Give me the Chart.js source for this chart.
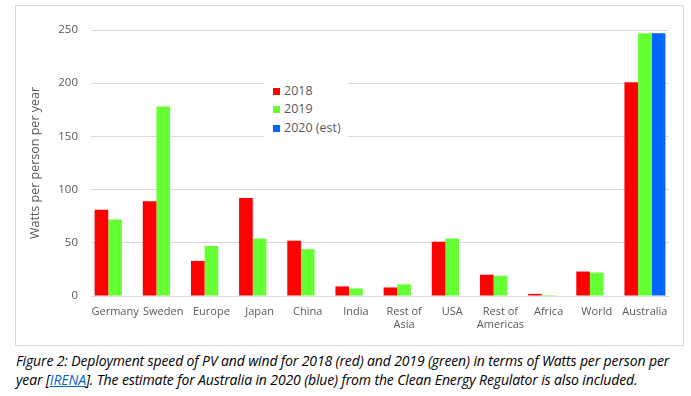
<!DOCTYPE html>
<html>
<head>
<meta charset="utf-8">
<script src="https://cdn.jsdelivr.net/npm/chart.js@4/dist/chart.umd.min.js"></script>
<style>
  body { margin: 0; background: #fff; width: 691px; height: 396px; position: relative; overflow: hidden; font-family: "Open Sans", sans-serif; }
  #box { position: absolute; left: 15px; top: 5px; width: 667px; height: 339px; border: 1px solid #d9d9d9; }
  #chartWrap { position: absolute; left: 0; top: 0; width: 667px; height: 339px; }
  #legend { position: absolute; left: 248px; top: 72px; width: 84px; height: 63px; background: #fff; font-size: 12.5px; color: #595959; }
  #legend div { position: absolute; left: 9px; height: 16px; line-height: 16px; white-space: nowrap; }
  #legend span { display: inline-block; width: 7px; height: 7px; margin-right: 4px; vertical-align: 0px; }
  #caption { position: absolute; left: 16px; top: 352px; font-style: italic; font-size: 14px; line-height: 18.5px; color: #000; white-space: nowrap; letter-spacing: -0.13px; }
  #caption a { color: #0563c1; text-decoration: underline; }
</style>
</head>
<body>
<div id="box">
  <div id="chartWrap"><canvas id="pvChart"></canvas></div>
  <div id="legend"></div>
</div>
<div id="caption">Figure 2: Deployment speed of PV and wind for 2018 (red) and 2019 (green) in terms of Watts per person per<br>year [<a>IRENA</a>]. The estimate for Australia in 2020 (blue) from the Clean Energy Regulator is also included.</div>
<script>
var categories = ['Germany', 'Sweden', 'Europe', 'Japan', 'China', 'India', ['Rest of', 'Asia'], 'USA', ['Rest of', 'Americas'], 'Africa', 'World', 'Australia'];
var values2018 = [81, 89, 33, 92, 52, 9, 8, 51, 20, 2, 23, 201];
var values2019 = [72, 178, 47, 54, 44, 7, 11, 54, 19, 1, 22, 247];
var values2020 = [null, null, null, null, null, null, null, null, null, null, null, 247];
var seriesLabels = ['2018', '2019', '2020 (est)'];
var seriesColors = ['#ff0000', '#66ff33', '#0066ff'];
var yTicks = [0, 50, 100, 150, 200, 250];

var tickFont = { family: 'Open Sans', size: 11 };

// legend drawn as html so it can sit inside the plot like the original
var legendBox = document.getElementById('legend');
for (var i = 0; i < seriesLabels.length; i++) {
  var row = document.createElement('div');
  row.style.top = (5 + i * 18.3) + 'px';
  row.innerHTML = '<span style="background:' + seriesColors[i] + '"></span>' + seriesLabels[i];
  legendBox.appendChild(row);
}

var ctx = document.getElementById('pvChart');
var pvChart = new Chart(ctx, {
  type: 'bar',
  data: {
    labels: categories,
    datasets: [
      { label: seriesLabels[0], data: values2018, backgroundColor: seriesColors[0] },
      { label: seriesLabels[1], data: values2019, backgroundColor: seriesColors[1] },
      { label: seriesLabels[2], data: values2020, backgroundColor: seriesColors[2] }
    ]
  },
  options: {
    responsive: true,
    maintainAspectRatio: false,
    animation: false,
    layout: { padding: { left: 0, top: 24, right: 14, bottom: 0 } },
    datasets: { bar: { categoryPercentage: 0.85, barPercentage: 1.0 } },
    plugins: { legend: { display: false }, tooltip: { enabled: false } },
    scales: {
      x: {
        grid: { display: false, drawTicks: false },
        border: { display: true, color: '#d9d9d9' },
        ticks: { color: '#595959', font: tickFont, padding: 9, maxRotation: 0, autoSkip: false },
        afterFit: function(scale) { scale.height = 49; }
      },
      y: {
        min: 0,
        max: 250,
        afterBuildTicks: function(scale) { scale.ticks = yTicks.map(function(v) { return { value: v }; }); },
        grid: { color: '#d9d9d9', drawTicks: false },
        border: { display: false },
        ticks: { color: '#595959', font: { family: 'Open Sans', size: 11.5 }, padding: 13 },
        title: { display: true, text: 'Watts per person per year', color: '#595959', font: { family: 'Open Sans', size: 12.5 }, padding: { top: 12, bottom: 0 } },
        afterFit: function(scale) { scale.width = 75; }
      }
    }
  }
});
</script>
</body>
</html>
